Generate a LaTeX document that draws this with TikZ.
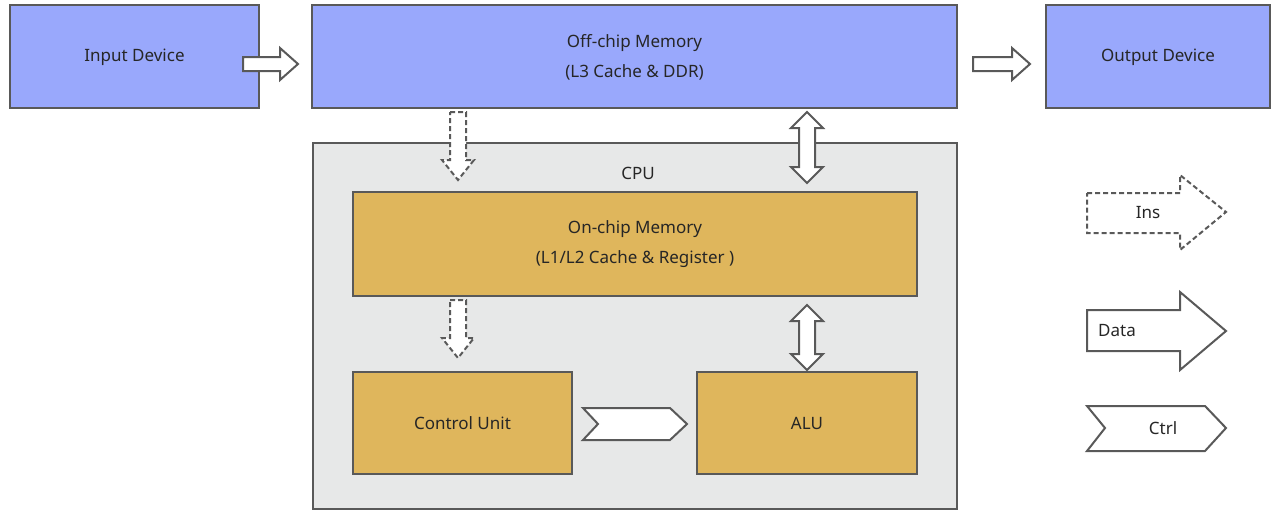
\documentclass[tikz,border=0pt]{standalone}
\usepackage{fontspec}
\setmainfont{Noto Sans}
\begin{document}
\begin{tikzpicture}[x=1pt,y=-1pt,
  box/.style={draw=bord,line width=2.5pt,inner sep=0pt},
  arr/.style={draw=bord,line width=2pt,fill=white,line join=miter},
  ins/.style={arr,dashed,dash pattern=on 5pt off 3pt},
  lbl/.style={font=\fontsize{17}{30}\selectfont\bfseries,text=txt,align=center}]
\definecolor{bord}{HTML}{595959}
\definecolor{blue}{HTML}{99A8FC}
\definecolor{gold}{HTML}{DFB65C}
\definecolor{cpu}{HTML}{E7E8E8}
\definecolor{txt}{HTML}{262626}
\useasboundingbox (0,0) rectangle (1282,515);
% boxes
\draw[box,fill=blue] (10,5) rectangle (259,108);
\node[lbl] (in) at (134.5,57) {Input Device};
\draw[box,fill=blue] (312,5) rectangle (957,108);
\node[lbl] (off) at (634.5,57) {Off-chip Memory\\(L3 Cache \& DDR)};
\draw[box,fill=blue] (1046,5) rectangle (1270,108);
\node[lbl] (out) at (1158,57) {Output Device};
\draw[box,fill=cpu] (313,143) rectangle (957,509);
\node[lbl] (cpu) at (638,173) {CPU};
\draw[box,fill=gold] (353,192) rectangle (917,296);
\node[lbl] (on) at (635,244) {On-chip Memory\\(L1/L2 Cache \& Register )};
\draw[box,fill=gold] (353,372) rectangle (572,474);
\node[lbl] (cu) at (462.5,423) {Control Unit};
\draw[box,fill=gold] (697,372) rectangle (917,474);
\node[lbl] (alu) at (807,423) {ALU};
% data arrows
\draw[arr] (243,57) -- (280,57) -- (280,48) -- (298,64) -- (280,80) -- (280,71) -- (243,71) -- cycle;
\draw[arr] (973,57) -- (1012,57) -- (1012,48) -- (1030,64) -- (1012,80) -- (1012,71) -- (973,71) -- cycle;
% ins arrows
\draw[ins] (450,112) -- (466,112) -- (466,160) -- (474,160) -- (458,180) -- (442,160) -- (450,160) -- cycle;
\draw[ins] (450,300) -- (466,300) -- (466,338) -- (474,338) -- (458,358) -- (442,338) -- (450,338) -- cycle;
% double arrows
\draw[arr] (807,112) -- (823,128) -- (815,128) -- (815,167) -- (823,167) -- (807,183) -- (791,167) -- (799,167) -- (799,128) -- (791,128) -- cycle;
\draw[arr] (807,305) -- (823,321) -- (815,321) -- (815,354) -- (823,354) -- (807,370) -- (791,354) -- (799,354) -- (799,321) -- (791,321) -- cycle;
% ctrl chevron
\draw[arr] (583,408) -- (670,408) -- (687,424) -- (670,440) -- (583,440) -- (598,424) -- cycle;
% legend
\draw[ins] (1087,193) -- (1180,193) -- (1180,175) -- (1226,212) -- (1180,250) -- (1180,233) -- (1087,233) -- cycle;
\node[lbl] (lins) at (1148,213) {Ins};
\draw[arr] (1087,310) -- (1180,310) -- (1180,292) -- (1226,331) -- (1180,370) -- (1180,351) -- (1087,351) -- cycle;
\node[lbl] (ldata) at (1117,331) {Data};
\draw[arr] (1087,406) -- (1205,406) -- (1226,428) -- (1205,451) -- (1087,451) -- (1105,428) -- cycle;
\node[lbl] (lctrl) at (1163,428) {Ctrl};
\end{tikzpicture}
\end{document}
